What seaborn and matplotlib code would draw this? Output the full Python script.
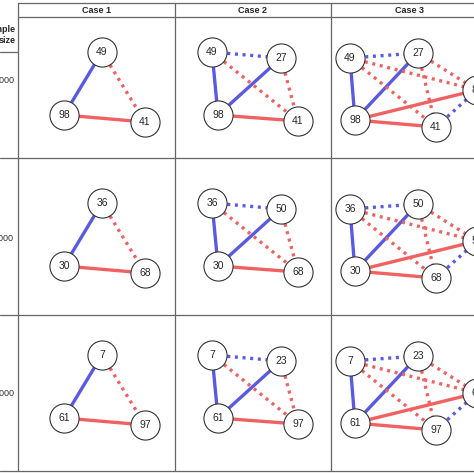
import numpy as np
import pandas as pd
import matplotlib.pyplot as plt
import seaborn as sns

sns.set_style("white")
plt.rcParams["font.family"] = ["Liberation Sans", "DejaVu Sans"]

cases = ["Case 1", "Case 2", "Case 3"]
sample_sizes = ["1000", "5000", "10000"]

# node labels per row (a, b, c, d, e)
row_nodes = [
    ["49", "98", "41", "27", "81"],
    ["36", "30", "68", "50", "55"],
    ["7", "61", "97", "23", "62"],
]

# edges per case: (from, to, colour, kind)
case_edges = [
    [("a", "b", "blue", "solid"), ("b", "c", "red", "solid"), ("a", "c", "red", "dot")],
    [("a", "d", "blue", "dot"), ("a", "b", "blue", "solid"), ("b", "d", "blue", "solid"),
     ("b", "c", "red", "solid"), ("a", "c", "red", "dot"), ("d", "c", "red", "dot")],
    [("a", "d", "blue", "dot"), ("a", "b", "blue", "solid"), ("b", "d", "blue", "solid"),
     ("b", "e", "red", "solid"), ("b", "c", "red", "solid"), ("a", "e", "red", "dot"),
     ("a", "c", "red", "dot"), ("d", "e", "red", "dot"), ("d", "c", "red", "dot"),
     ("c", "e", "blue", "dot")],
]

# layout in pixels, relative to row top
layout = [
    {"a": (102, 52), "b": (64, 115), "c": (145, 122)},
    {"a": (212, 52), "d": (281, 58), "b": (218, 115), "c": (298, 121)},
    {"a": (350, 58), "d": (418, 53), "e": (477, 90), "b": (355, 120), "c": (436, 127)},
]
row_tops = [0, 151, 303]
colors = {"blue": "#5a5ae0", "red": "#f06262"}

fig = plt.figure(figsize=(4.74, 4.74), dpi=100)
ax = fig.add_axes([0, 0, 1, 1])

# table grid
gc = "#666666"
for x in [18, 175, 331]:
    ax.plot([x, x], [3, 471], color=gc, lw=0.9)
ax.plot([18, 474], [3, 3], color=gc, lw=0.9)
ax.plot([18, 474], [17, 17], color=gc, lw=0.9)
ax.plot([0, 18], [52, 52], color=gc, lw=0.9)
for y in [158, 315, 471]:
    ax.plot([0, 474], [y, y], color=gc, lw=0.9)
for x0, x1, c in zip([18, 175, 331], [175, 331, 488], cases):
    ax.text((x0 + x1) / 2, 10, c, ha="center", va="center", fontsize=6.5, fontweight="bold")
ax.text(16, 35, "Sample\nsize", ha="right", va="center", fontsize=6.5, fontweight="bold")
for y, s in zip([80, 238, 393], sample_sizes):
    ax.text(14, y, s, ha="right", va="center", fontsize=6.5, color="#333333")

for r, (names, top) in enumerate(zip(row_nodes, row_tops)):
    lab = dict(zip("abcde", names))
    for c, edges in enumerate(case_edges):
        pos = {k: (x, y + top) for k, (x, y) in layout[c].items()}
        for s, t, col, kind in edges:
            seg = pd.DataFrame({"x": [pos[s][0], pos[t][0]], "y": [pos[s][1], pos[t][1]]})
            ls = "-" if kind == "solid" else (0, (0.9, 1.4))
            ax.plot(seg["x"], seg["y"], color=colors[col], lw=2.4, ls=ls, zorder=1)
        nodes = pd.DataFrame({"x": [p[0] for p in pos.values()], "y": [p[1] for p in pos.values()]})
        sns.scatterplot(data=nodes, x="x", y="y", s=440, color="white", edgecolor="#333333",
                        linewidth=0.8, ax=ax, zorder=3, legend=False)
        for k, (x, y) in pos.items():
            ax.text(x, y, lab[k], ha="center", va="center", fontsize=7.5, zorder=4)

ax.set_xlim(0, 474)
ax.set_ylim(474, 0)
ax.axis("off")
fig.savefig("out.png", dpi=100)
